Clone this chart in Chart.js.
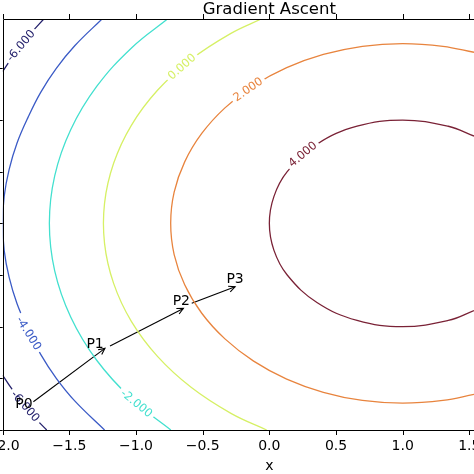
<!DOCTYPE html>
<html>
<head>
<meta charset="utf-8">
<script src="https://cdn.jsdelivr.net/npm/chart.js@4.4.1/dist/chart.umd.min.js"></script>
<style>
  html, body { margin: 0; padding: 0; background: #fff; }
  #wrap { width: 474px; height: 474px; }
</style>
</head>
<body>
<div id="wrap"><canvas id="contourChart"></canvas></div>
<script>
// Axis ticks and labels
const xTicks = [-2.0, -1.5, -1.0, -0.5, 0.0, 0.5, 1.0, 1.5];
const xTickLabels = ['\u22122.0', '\u22121.5', '\u22121.0', '\u22120.5', '0.0', '0.5', '1.0', '1.5'];
const yTicks = [-2.0, -1.5, -1.0, -0.5, 0.0, 0.5, 1.0, 1.5];

// Contour levels
const levels = [-6, -4, -2, 0, 2, 4];
const levelColors = ['#23206b', '#3b5bc6', '#43e0cf', '#d6f065', '#e8843e', '#7a2236'];

const contourM6a = [[-1.692, 1.978], [-1.782, 1.85], [-1.864, 1.72], [-1.938, 1.59], [-2.0, 1.47]];
const contourM6b = [[-2.0, -1.47], [-1.938, -1.59], [-1.864, -1.72], [-1.782, -1.85], [-1.67, -2.0]];
const contourM4 = [[-1.255, 1.978], [-1.458, 1.721], [-1.598, 1.5], [-1.715, 1.268], [-1.81, 1.026],
  [-1.893, 0.776], [-1.952, 0.521], [-1.989, 0.261], [-2.0, 0.0], [-1.989, -0.261], [-1.952, -0.521],
  [-1.893, -0.776], [-1.81, -1.026], [-1.715, -1.268], [-1.598, -1.5], [-1.458, -1.721], [-1.236, -2.0]];
const contourM2 = [[-0.764, 1.978], [-1.03, 1.703], [-1.295, 1.325], [-1.49, 0.906], [-1.61, 0.46],
  [-1.65, 0.0], [-1.61, -0.46], [-1.49, -0.906], [-1.295, -1.325], [-1.03, -1.703], [-0.739, -2.0]];
const contour0 = [[-0.061, 1.978], [-0.288, 1.839], [-0.587, 1.587], [-0.839, 1.288], [-1.035, 0.949],
  [-1.168, 0.581], [-1.236, 0.196], [-1.236, -0.196], [-1.168, -0.581], [-1.035, -0.949],
  [-0.839, -1.288], [-0.587, -1.587], [-0.288, -1.839], [-0.02, -2.0]];
const contour2 = [[1.535, 1.656], [1.302, 1.714], [1.0, 1.74], [0.698, 1.714], [0.405, 1.635],
  [0.13, 1.507], [-0.118, 1.333], [-0.333, 1.118], [-0.507, 0.87], [-0.635, 0.595], [-0.714, 0.302],
  [-0.74, 0.0], [-0.714, -0.302], [-0.635, -0.595], [-0.507, -0.87], [-0.333, -1.118], [-0.118, -1.333],
  [0.13, -1.507], [0.405, -1.635], [0.698, -1.714], [1.0, -1.74], [1.302, -1.714], [1.535, -1.656]];
const contour4 = [[1.535, 0.845], [1.342, 0.94], [1.0, 1.0], [0.658, 0.94], [0.357, 0.766],
  [0.134, 0.5], [0.034, 0.259], [0.0, 0.0], [0.034, -0.259], [0.134, -0.5], [0.357, -0.766],
  [0.658, -0.94], [1.0, -1.0], [1.342, -0.94], [1.535, -0.845]];

// Inline contour labels: text, level index, position, angle (deg)
const clabelText = ['-6.000', '-6.000', '-4.000', '-2.000', '0.000', '2.000', '4.000'];
const clabelLevel = [0, 0, 1, 2, 3, 4, 5];
const clabelPos = [[-1.864, 1.72], [-1.83, -1.77], [-1.805, -1.065], [-0.996, -1.743], [-0.656, 1.516], [-0.16, 1.297], [0.25, 0.668]];
const clabelAngle = [-50, 49, 58, 39, -41, -35, -40];

// Gradient ascent steps
const stepNames = ['P0', 'P1', 'P2', 'P3'];
const stepLabelPos = [[-1.84, -1.748], [-1.307, -1.17], [-0.66, -0.753], [-0.257, -0.54]];
const arrowFrom = [[-1.77, -1.727], [-1.195, -1.188], [-0.582, -0.774]];
const arrowTo = [[-1.233, -1.21], [-0.645, -0.823], [-0.257, -0.614]];

const toXY = pts => pts.map(p => ({ x: p[0], y: p[1] }));
const FONT = "'DejaVu Sans', sans-serif";

const contourSets = [
  [contourM6a, 0], [contourM6b, 0], [contourM4, 1], [contourM2, 2], [contour0, 3], [contour2, 4], [contour4, 5]
].map(([pts, li]) => ({
  label: 'level ' + levels[li],
  data: toXY(pts),
  showLine: true,
  borderColor: levelColors[li],
  borderWidth: 1.3,
  pointRadius: 0,
  tension: 0.4,
  fill: false
}));

const arrowSets = arrowFrom.map((p, i) => ({
  label: 'step ' + i,
  data: toXY([p, arrowTo[i]]),
  showLine: true,
  borderColor: '#000',
  borderWidth: 1.1,
  pointRadius: 0,
  fill: false
}));

// Frame, ticks, titles, labels and arrowheads
const decorations = {
  id: 'decorations',
  afterDatasetsDraw(chart) {
    const { ctx, chartArea: a, scales: { x, y } } = chart;
    ctx.save();

    // contour labels with white backing
    ctx.font = '11.5px ' + FONT;
    ctx.textAlign = 'center';
    ctx.textBaseline = 'middle';
    clabelText.forEach((t, i) => {
      const px = x.getPixelForValue(clabelPos[i][0]);
      const py = y.getPixelForValue(clabelPos[i][1]);
      const w = ctx.measureText(t).width + 6;
      ctx.save();
      ctx.translate(px, py);
      ctx.rotate(clabelAngle[i] * Math.PI / 180);
      ctx.fillStyle = '#fff';
      ctx.fillRect(-w / 2, -6, w, 12);
      ctx.fillStyle = levelColors[clabelLevel[i]];
      ctx.fillText(t, 0, 0.5);
      ctx.restore();
    });

    // arrowheads
    ctx.strokeStyle = '#000';
    ctx.lineWidth = 1.1;
    arrowTo.forEach((p, i) => {
      const x1 = x.getPixelForValue(arrowFrom[i][0]), y1 = y.getPixelForValue(arrowFrom[i][1]);
      const x2 = x.getPixelForValue(p[0]), y2 = y.getPixelForValue(p[1]);
      const ang = Math.atan2(y2 - y1, x2 - x1);
      const len = 7;
      ctx.beginPath();
      ctx.moveTo(x2 - len * Math.cos(ang - 0.45), y2 - len * Math.sin(ang - 0.45));
      ctx.lineTo(x2, y2);
      ctx.lineTo(x2 - len * Math.cos(ang + 0.45), y2 - len * Math.sin(ang + 0.45));
      ctx.stroke();
    });

    // step labels
    ctx.fillStyle = '#000';
    ctx.font = '14px ' + FONT;
    stepNames.forEach((n, i) => {
      ctx.fillText(n, x.getPixelForValue(stepLabelPos[i][0]), y.getPixelForValue(stepLabelPos[i][1]));
    });

    // frame
    ctx.lineWidth = 1;
    ctx.beginPath();
    ctx.moveTo(a.right + 1, Math.round(a.top) + 0.5);
    ctx.lineTo(Math.round(a.left) + 0.5, Math.round(a.top) + 0.5);
    ctx.lineTo(Math.round(a.left) + 0.5, Math.round(a.bottom) + 0.5);
    ctx.lineTo(a.right + 1, Math.round(a.bottom) + 0.5);
    ctx.stroke();

    // ticks (outward)
    ctx.beginPath();
    xTicks.forEach(v => {
      const px = Math.round(x.getPixelForValue(v)) + 0.5;
      ctx.moveTo(px, a.top); ctx.lineTo(px, a.top - 5);
      ctx.moveTo(px, a.bottom); ctx.lineTo(px, a.bottom + 5);
    });
    yTicks.forEach(v => {
      const py = Math.round(y.getPixelForValue(v)) + 0.5;
      ctx.moveTo(a.left, py); ctx.lineTo(a.left - 5, py);
    });
    ctx.stroke();

    // tick labels
    ctx.font = '14px ' + FONT;
    ctx.textBaseline = 'alphabetic';
    xTicks.forEach((v, i) => {
      ctx.fillText(xTickLabels[i], x.getPixelForValue(v), a.bottom + 20);
    });

    // axis label and title
    ctx.fillText('x', x.getPixelForValue(0), a.bottom + 40);
    ctx.font = '16.5px ' + FONT;
    ctx.fillText('Gradient Ascent', x.getPixelForValue(0), 13.5);
    ctx.restore();
  }
};

new Chart(document.getElementById('contourChart'), {
  type: 'scatter',
  data: { datasets: [...contourSets, ...arrowSets] },
  options: {
    responsive: true,
    maintainAspectRatio: false,
    animation: false,
    layout: { padding: { left: 2.7, top: 19, right: 0, bottom: 44 } },
    plugins: {
      legend: { display: false },
      tooltip: { enabled: false }
    },
    scales: {
      x: { type: 'linear', min: -2.0, max: 1.535, display: false },
      y: { type: 'linear', min: -2.0, max: 1.978, display: false }
    }
  },
  plugins: [decorations]
});
</script>
</body>
</html>
